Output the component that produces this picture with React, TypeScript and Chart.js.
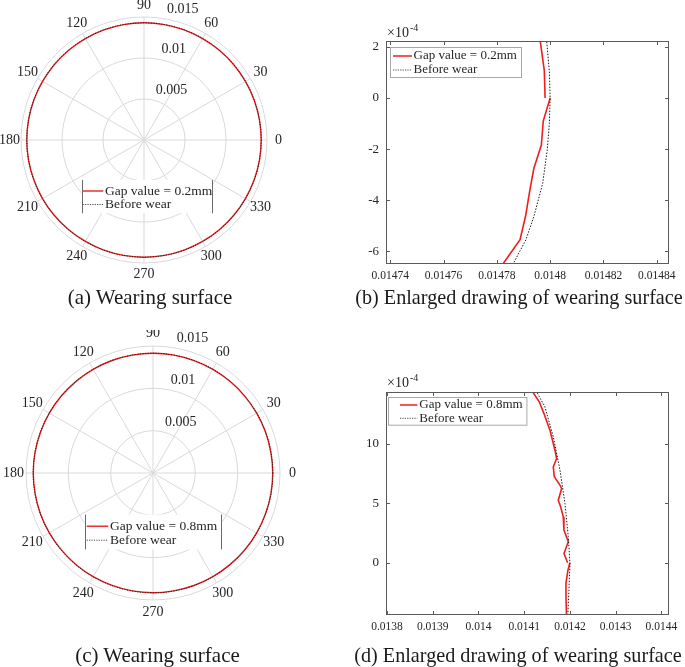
import React, { useEffect, useRef } from 'react';
import { Chart, registerables } from 'chart.js';

Chart.register(...registerables);

const SERIF = '"Liberation Serif", "Times New Roman", serif';
const RED = 'rgb(238, 30, 30)';
const DOT = '#1c1c1c';
const GRID = '#d9d9d9';
const TEXT = '#262626';
const FRAME = '#5a5a5a';

// ---------- polar panels (a) and (c): radius in metres, sampled every 10° ----------
const polarAngles = [
  0, 10, 20, 30, 40, 50, 60, 70, 80, 90, 100, 110, 120, 130, 140, 150, 160, 170,
  180, 190, 200, 210, 220, 230, 240, 250, 260, 270, 280, 290, 300, 310, 320, 330, 340, 350,
];
const polarAngleTicks = [0, 30, 60, 90, 120, 150, 180, 210, 240, 270, 300, 330];
const polarRadiusTicks = [0.005, 0.01, 0.015];
const polarRadiusTickLabels = ['0.005', '0.01', '0.015'];
const polarRadiusMax = 0.015;

const gapA = [
  0.01429, 0.01429, 0.01429, 0.01428, 0.01429, 0.01429, 0.01429, 0.01428, 0.01429,
  0.01429, 0.01429, 0.01428, 0.01429, 0.01429, 0.01429, 0.01428, 0.01429, 0.01429,
  0.01429, 0.01429, 0.01428, 0.01429, 0.01429, 0.01429, 0.01428, 0.01429, 0.01429,
  0.01429, 0.01429, 0.01428, 0.01429, 0.01429, 0.01429, 0.01428, 0.01429, 0.01429,
];
const beforeWearA = [
  0.0143, 0.0143, 0.0143, 0.0143, 0.0143, 0.0143, 0.0143, 0.0143, 0.0143,
  0.0143, 0.0143, 0.0143, 0.0143, 0.0143, 0.0143, 0.0143, 0.0143, 0.0143,
  0.0143, 0.0143, 0.0143, 0.0143, 0.0143, 0.0143, 0.0143, 0.0143, 0.0143,
  0.0143, 0.0143, 0.0143, 0.0143, 0.0143, 0.0143, 0.0143, 0.0143, 0.0143,
];
const gapC = [
  0.01414, 0.01413, 0.01414, 0.01414, 0.01413, 0.01414, 0.01414, 0.01413, 0.01414,
  0.01414, 0.01413, 0.01414, 0.01414, 0.01413, 0.01414, 0.01414, 0.01413, 0.01414,
  0.01414, 0.01413, 0.01414, 0.01414, 0.01413, 0.01414, 0.01414, 0.01413, 0.01414,
  0.01414, 0.01413, 0.01414, 0.01414, 0.01413, 0.01414, 0.01414, 0.01413, 0.01414,
];
const beforeWearC = [
  0.01415, 0.01415, 0.01415, 0.01415, 0.01415, 0.01415, 0.01415, 0.01415, 0.01415,
  0.01415, 0.01415, 0.01415, 0.01415, 0.01415, 0.01415, 0.01415, 0.01415, 0.01415,
  0.01415, 0.01415, 0.01415, 0.01415, 0.01415, 0.01415, 0.01415, 0.01415, 0.01415,
  0.01415, 0.01415, 0.01415, 0.01415, 0.01415, 0.01415, 0.01415, 0.01415, 0.01415,
];

// ---------- enlarged panel (b): x in metres, y in units of 1e-4 m ----------
const gapBX = [
  0.0147962, 0.0147963, 0.0147978, 0.0147981, null,
  0.0148, 0.0147974, 0.0147967, 0.0147939, 0.0147924, 0.0147908, 0.0147887, 0.0147824, 0.0147809,
];
const gapBY = [
  2.44, 2.22, 1.08, 0, null,
  0, -0.9, -1.84, -2.75, -3.6, -4.61, -5.55, -6.48, -6.71,
];
const beforeWearBX = [
  0.0147986, 0.0147987, 0.0147997, 0.0148, 0.0147997, 0.0147989, 0.0147972, 0.0147939,
  0.0147909, 0.0147862, 0.0147852,
];
const beforeWearBY = [2.44, 2.22, 1.04, 0, -1.0, -2.04, -3.34, -4.64, -5.55, -6.48, -6.71];
const xTicksB = [0.01474, 0.01476, 0.01478, 0.0148, 0.01482, 0.01484];
const xTickLabelsB = ['0.01474', '0.01476', '0.01478', '0.0148', '0.01482', '0.01484'];
const yTicksB = [-6, -4, -2, 0, 2];
const yTickLabelsB = ['-6', '-4', '-2', '0', '2'];
const xRangeB = [0.0147384, 0.0148446];
const yRangeB = [-6.5, 2.235];

// ---------- enlarged panel (d): x in metres, y in units of 1e-4 m ----------
const gapDX = [
  0.0141126, 0.0141185, 0.014133, 0.0141432, 0.0141563, 0.0141672, 0.0141709, 0.0141636,
  0.0141658, 0.0141782, 0.0141818, 0.0141745, 0.0141796, 0.0141854, 0.0141869, 0.0141964,
  0.014187, 0.0141949, null,
  0.0142, 0.0141956, 0.0141913, 0.0141913, 0.0141927,
];
const gapDY = [
  14.89, 14.33, 13.49, 12.51, 11.12, 9.44, 8.74, 8.04,
  7.21, 6.51, 6.23, 5.25, 4.69, 3.85, 2.74, 1.76,
  0.78, 0, null,
  0, -0.61, -1.73, -2.85, -4.8,
];
const beforeWearDX = [
  0.0141192, 0.0141272, 0.0141454, 0.0141636, 0.0141782, 0.0141891, 0.0141964, 0.0142,
  0.0141978, 0.0141949,
];
const beforeWearDY = [14.89, 14.33, 13.07, 10.56, 7.77, 4.97, 2.18, 0, -2.29, -4.8];
const xTicksD = [0.0138, 0.0139, 0.014, 0.0141, 0.0142, 0.0143, 0.0144];
const xTickLabelsD = ['0.0138', '0.0139', '0.014', '0.0141', '0.0142', '0.0143', '0.0144'];
const yTicksD = [0, 5, 10];
const yTickLabelsD = ['0', '5', '10'];
const xRangeD = [0.0137978, 0.0144166];
const yRangeD = [-4.38, 14.32];

const font = (size: number) => `${size}px ${SERIF}`;

// Angle labels, radius labels and the legend of a polar panel
const polarText = {
  id: 'polarText',
  afterDraw(chart: any, _args: any, o: any) {
    const s = chart.scales.r;
    const ctx = chart.ctx as CanvasRenderingContext2D;
    const cx = s.xCenter;
    const cy = s.yCenter;
    const outer = s.getDistanceFromCenterForValue(polarRadiusMax);
    ctx.save();
    ctx.fillStyle = TEXT;
    ctx.font = font(14);
    ctx.textAlign = 'center';
    ctx.textBaseline = 'middle';
    chart.data.labels.forEach((lab: string, i: number) => {
      if (!polarAngleTicks.includes(Number(lab))) return;
      const p = s.getPointPosition(i, outer + o.labelGap);
      ctx.fillText(lab, p.x, p.y);
    });
    ctx.textAlign = 'left';
    const a = (82 * Math.PI) / 180;
    polarRadiusTicks.forEach((v, k) => {
      const r = s.getDistanceFromCenterForValue(v);
      ctx.fillText(polarRadiusTickLabels[k], cx + r * Math.cos(a) + 6, cy - r * Math.sin(a) - 9);
    });

    // legend
    const L = o.legend;
    const x0 = cx + L.x0;
    const x1 = cx + L.x1;
    const y0 = cy + L.y0;
    const y1 = cy + L.y1;
    ctx.fillStyle = '#ffffff';
    ctx.fillRect(x0, y0, x1 - x0, y1 - y0);
    ctx.strokeStyle = '#6a6a6a';
    ctx.lineWidth = 1;
    ctx.beginPath();
    ctx.moveTo(Math.round(x0) + 0.5, y0);
    ctx.lineTo(Math.round(x0) + 0.5, y1);
    ctx.moveTo(Math.round(x1) - 0.5, y0);
    ctx.lineTo(Math.round(x1) - 0.5, y1);
    ctx.stroke();
    const r1 = cy + L.row1;
    const r2 = cy + L.row2;
    ctx.strokeStyle = RED;
    ctx.lineWidth = 1.4;
    ctx.beginPath();
    ctx.moveTo(x0 + L.s0, r1);
    ctx.lineTo(x0 + L.s1, r1);
    ctx.stroke();
    ctx.strokeStyle = DOT;
    ctx.lineWidth = 0.8;
    ctx.setLineDash([1.2, 1.2]);
    ctx.beginPath();
    ctx.moveTo(x0 + L.s0, r2);
    ctx.lineTo(x0 + L.s1, r2);
    ctx.stroke();
    ctx.setLineDash([]);
    ctx.fillStyle = TEXT;
    ctx.font = font(13.5);
    ctx.textBaseline = 'middle';
    ctx.fillText(o.gapLabel, x0 + L.t, r1);
    ctx.fillText('Before wear', x0 + L.t, r2);
    ctx.restore();
  },
};

// Boxed axes with inward ticks, the exponent note and the legend of an enlarged panel
const frame = {
  id: 'frame',
  afterDraw(chart: any, _args: any, o: any) {
    const ctx = chart.ctx as CanvasRenderingContext2D;
    const a = chart.chartArea;
    const { x, y } = chart.scales;
    ctx.save();
    ctx.strokeStyle = FRAME;
    ctx.lineWidth = 1;
    ctx.strokeRect(a.left + 0.5, a.top + 0.5, a.right - a.left - 1, a.bottom - a.top - 1);
    ctx.beginPath();
    x.ticks.forEach((t: any) => {
      const px = Math.round(x.getPixelForValue(t.value)) + 0.5;
      ctx.moveTo(px, a.bottom);
      ctx.lineTo(px, a.bottom - 4);
      ctx.moveTo(px, a.top);
      ctx.lineTo(px, a.top + 4);
    });
    y.ticks.forEach((t: any) => {
      const py = Math.round(y.getPixelForValue(t.value)) + 0.5;
      ctx.moveTo(a.left, py);
      ctx.lineTo(a.left + 4, py);
      ctx.moveTo(a.right, py);
      ctx.lineTo(a.right - 4, py);
    });
    ctx.stroke();

    // ×10^-4 note above the y axis
    ctx.fillStyle = TEXT;
    ctx.textAlign = 'left';
    ctx.textBaseline = 'middle';
    ctx.font = font(14);
    ctx.fillText('×10', a.left + 1, a.top + o.expDy);
    const w = ctx.measureText('×10').width;
    ctx.font = font(10);
    ctx.fillText(o.exponent, a.left + 2 + w, a.top + o.expDy - 5);

    // legend
    const L = o.legend;
    const bx = a.left + L.x0;
    const by = a.top + L.y0;
    ctx.fillStyle = '#ffffff';
    ctx.fillRect(bx, by, L.x1 - L.x0, L.y1 - L.y0);
    ctx.strokeStyle = '#a8a8a8';
    ctx.strokeRect(Math.round(bx) + 0.5, Math.round(by) + 0.5, L.x1 - L.x0, L.y1 - L.y0);
    const r1 = a.top + L.row1;
    const r2 = a.top + L.row2;
    ctx.strokeStyle = RED;
    ctx.lineWidth = 1.5;
    ctx.beginPath();
    ctx.moveTo(a.left + L.s0, r1);
    ctx.lineTo(a.left + L.s1, r1);
    ctx.stroke();
    ctx.strokeStyle = DOT;
    ctx.lineWidth = 0.8;
    ctx.setLineDash([1.2, 1.2]);
    ctx.beginPath();
    ctx.moveTo(a.left + L.s0, r2);
    ctx.lineTo(a.left + L.s1, r2);
    ctx.stroke();
    ctx.setLineDash([]);
    ctx.fillStyle = TEXT;
    ctx.font = font(13);
    ctx.fillText(o.gapLabel, a.left + L.t, r1);
    ctx.fillText('Before wear', a.left + L.t, r2);
    ctx.restore();
  },
};

type PolarProps = {
  left: number; top: number; width: number; height: number;
  padding: { left: number; right: number; top: number; bottom: number };
  gap: number[]; before: number[]; gapLabel: string; labelGap: number; legend: any;
};

function PolarPanel(p: PolarProps) {
  const ref = useRef<HTMLCanvasElement>(null);
  useEffect(() => {
    const n = polarAngles.length;
    // radar runs clockwise from its start angle, so walk the angles backwards from 0°
    const order = polarAngles.map((_, i) => (n - i) % n);
    const chart = new Chart(ref.current as HTMLCanvasElement, {
      type: 'radar',
      data: {
        labels: order.map((k) => String(polarAngles[k])),
        datasets: [
          {
            label: 'Before wear',
            data: order.map((k) => p.before[k]),
            borderColor: DOT,
            borderWidth: 0.9,
            borderDash: [1.2, 1.4],
            pointRadius: 0,
            fill: false,
          },
          {
            label: p.gapLabel,
            data: order.map((k) => p.gap[k]),
            borderColor: RED,
            borderWidth: 1.4,
            pointRadius: 0,
            fill: false,
          },
        ],
      },
      options: {
        responsive: false,
        animation: false,
        devicePixelRatio: 1,
        layout: { padding: p.padding },
        // smooth curve through the 10° samples
        elements: { line: { tension: 0.335 } },
        plugins: {
          legend: { display: false },
          tooltip: { enabled: false },
          polarText: { labelGap: p.labelGap, legend: p.legend, gapLabel: p.gapLabel },
        } as any,
        scales: {
          r: {
            min: 0,
            max: polarRadiusMax,
            startAngle: 90,
            afterBuildTicks: (s: any) => {
              s.ticks = [0, ...polarRadiusTicks].map((value) => ({ value }));
            },
            ticks: { display: false },
            grid: { circular: true, color: GRID, lineWidth: 1 },
            angleLines: {
              color: GRID,
              lineWidth: (c: any) => (polarAngleTicks.includes(Number(c.label)) ? 1 : 0),
            },
            pointLabels: { display: false },
          } as any,
        },
      },
      plugins: [polarText],
    });
    return () => chart.destroy();
  }, []);
  return (
    <canvas
      ref={ref}
      width={p.width}
      height={p.height}
      style={{ position: 'absolute', left: p.left, top: p.top, width: p.width, height: p.height }}
    />
  );
}

type ZoomProps = {
  left: number; top: number; width: number; height: number;
  padding: { left: number; right: number; top: number; bottom: number };
  gapX: (number | null)[]; gapY: (number | null)[];
  beforeX: number[]; beforeY: number[];
  xTicks: number[]; xTickLabels: string[]; yTicks: number[]; yTickLabels: string[];
  xRange: number[]; yRange: number[];
  gapLabel: string; legend: any; expDy: number;
};

function ZoomPanel(p: ZoomProps) {
  const ref = useRef<HTMLCanvasElement>(null);
  useEffect(() => {
    const tickFont = { family: SERIF, size: 11.5 };
    const chart = new Chart(ref.current as HTMLCanvasElement, {
      type: 'scatter',
      data: {
        datasets: [
          {
            label: 'Before wear',
            data: p.beforeX.map((x, i) => ({ x, y: p.beforeY[i] })),
            showLine: true,
            borderColor: DOT,
            borderWidth: 1,
            borderDash: [1.5, 1.5],
            pointRadius: 0,
          },
          {
            label: p.gapLabel,
            data: p.gapX.map((x, i) => ({ x, y: p.gapY[i] })) as any,
            showLine: true,
            borderColor: RED,
            borderWidth: 1.6,
            pointRadius: 0,
            spanGaps: false,
          },
        ],
      },
      options: {
        responsive: false,
        animation: false,
        devicePixelRatio: 1,
        layout: { padding: p.padding },
        plugins: {
          legend: { display: false },
          tooltip: { enabled: false },
          frame: { legend: p.legend, gapLabel: p.gapLabel, exponent: '-4', expDy: p.expDy },
        } as any,
        scales: {
          x: {
            type: 'linear',
            min: p.xRange[0],
            max: p.xRange[1],
            afterBuildTicks: (s: any) => {
              s.ticks = p.xTicks.map((value) => ({ value }));
            },
            afterFit: (s: any) => {
              s.height = 22;
            },
            ticks: {
              callback: (_v: any, i: number) => p.xTickLabels[i],
              font: tickFont,
              color: TEXT,
              padding: 5,
              maxRotation: 0,
              autoSkip: false,
            },
            grid: { display: false, drawTicks: false },
            border: { display: false },
          },
          y: {
            type: 'linear',
            min: p.yRange[0],
            max: p.yRange[1],
            afterBuildTicks: (s: any) => {
              s.ticks = p.yTicks.map((value) => ({ value }));
            },
            afterFit: (s: any) => {
              s.width = 40;
            },
            ticks: {
              callback: (_v: any, i: number) => p.yTickLabels[i],
              font: { family: SERIF, size: 13 },
              color: TEXT,
              padding: 7,
              autoSkip: false,
            },
            grid: { display: false, drawTicks: false },
            border: { display: false },
          },
        },
      },
      plugins: [frame],
    });
    return () => chart.destroy();
  }, []);
  return (
    <canvas
      ref={ref}
      width={p.width}
      height={p.height}
      style={{ position: 'absolute', left: p.left, top: p.top, width: p.width, height: p.height }}
    />
  );
}

function Caption({ text, cx, cy, size }: { text: string; cx: number; cy: number; size: number }) {
  return (
    <div
      style={{
        position: 'absolute',
        left: cx - 200,
        top: cy - 12,
        width: 400,
        height: 24,
        lineHeight: '24px',
        textAlign: 'center',
        fontFamily: SERIF,
        fontSize: size,
        color: '#1a1a1a',
        whiteSpace: 'nowrap',
      }}
    >
      {text}
    </div>
  );
}

export default function App() {
  return (
    <div
      style={{
        position: 'fixed',
        left: 0,
        top: 0,
        width: 685,
        height: 667,
        background: '#ffffff',
        overflow: 'hidden',
      }}
    >
      <PolarPanel
        left={0}
        top={0}
        width={290}
        height={285}
        padding={{ left: 21, right: 23, top: 17, bottom: 22 }}
        gap={gapA}
        before={beforeWearA}
        gapLabel="Gap value = 0.2mm"
        labelGap={11.5}
        legend={{ x0: -62.3, x1: 69.3, y0: 40, y1: 73.3, row1: 51, row2: 64.5, s0: 1, s1: 21.6, t: 23.3 }}
      />
      <PolarPanel
        left={0}
        top={330}
        width={310}
        height={300}
        padding={{ left: 26, right: 29, top: 16, bottom: 29 }}
        gap={gapC}
        before={beforeWearC}
        gapLabel="Gap value = 0.8mm"
        labelGap={12.5}
        legend={{ x0: -68, x1: 68.7, y0: 41.5, y1: 76.5, row1: 53.2, row2: 67.2, s0: 1.7, s1: 23.3, t: 25 }}
      />
      <ZoomPanel
        left={340}
        top={0}
        width={345}
        height={300}
        padding={{ left: 6, right: 16, top: 41, bottom: 14 }}
        gapX={gapBX}
        gapY={gapBY}
        beforeX={beforeWearBX}
        beforeY={beforeWearBY}
        xTicks={xTicksB}
        xTickLabels={xTickLabelsB}
        yTicks={yTicksB}
        yTickLabels={yTickLabelsB}
        xRange={xRangeB}
        yRange={yRangeB}
        gapLabel="Gap value = 0.2mm"
        expDy={-8}
        legend={{ x0: 4, x1: 135, y0: 6, y1: 36, row1: 15, row2: 29, s0: 7, s1: 26, t: 27.5 }}
      />
      <ZoomPanel
        left={340}
        top={330}
        width={345}
        height={337}
        padding={{ left: 6, right: 16, top: 62, bottom: 30 }}
        gapX={gapDX}
        gapY={gapDY}
        beforeX={beforeWearDX}
        beforeY={beforeWearDY}
        xTicks={xTicksD}
        xTickLabels={xTickLabelsD}
        yTicks={yTicksD}
        yTickLabels={yTickLabelsD}
        xRange={xRangeD}
        yRange={yRangeD}
        gapLabel="Gap value = 0.8mm"
        expDy={-9}
        legend={{ x0: 2.3, x1: 140.7, y0: 5.3, y1: 33, row1: 13, row2: 26.3, s0: 14, s1: 31.3, t: 33.3 }}
      />
      <Caption text="(a) Wearing surface" cx={150} cy={297} size={21} />
      <Caption text="(b) Enlarged drawing of wearing surface" cx={519} cy={297} size={20.2} />
      <Caption text="(c) Wearing surface" cx={157.5} cy={655} size={21} />
      <Caption text="(d) Enlarged drawing of wearing surface" cx={518} cy={655} size={20.2} />
    </div>
  );
}
